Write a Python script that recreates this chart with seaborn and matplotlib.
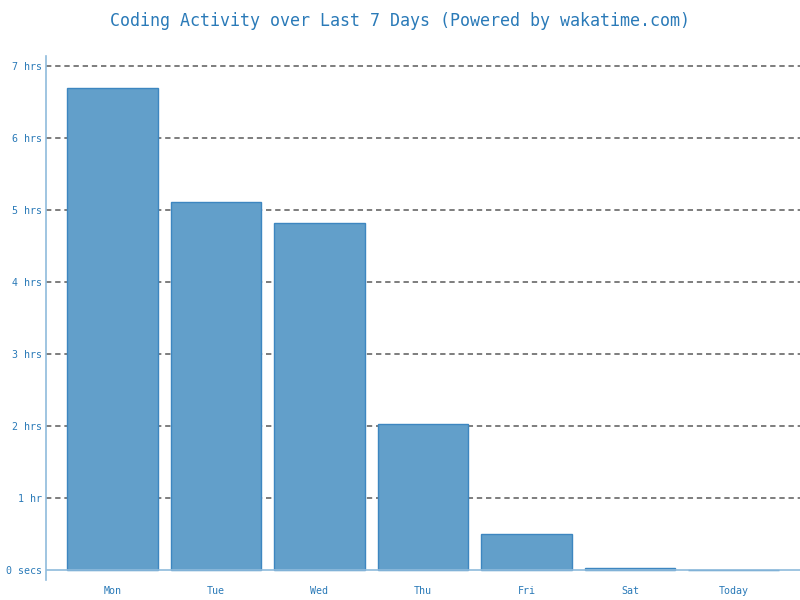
import pandas as pd
import matplotlib.pyplot as plt
import seaborn as sns

days = ['Mon', 'Tue', 'Wed', 'Thu', 'Fri', 'Sat', 'Today']
hours = [6.69, 5.11, 4.82, 2.03, 0.50, 0.03, 0.0]
tick_vals = [0, 1, 2, 3, 4, 5, 6, 7]
tick_labels = ['0 secs', '1 hr', '2 hrs', '3 hrs', '4 hrs', '5 hrs', '6 hrs', '7 hrs']

df = pd.DataFrame({'day': days, 'hours': hours})

sns.set_style('white')
plt.rcParams['font.family'] = ['DejaVu Sans Mono', 'DejaVu Sans']

text_col = '#2a7ab8'
spine_col = '#8fbbdc'

fig = plt.figure(figsize=(8, 6), dpi=100)
ax = fig.add_axes([0.0575, 0.0333, 0.9425, 0.8734])

sns.barplot(data=df, x='day', y='hours', color='#629fca', saturation=1,
            width=0.875, edgecolor='#3d86c0', linewidth=1, ax=ax, zorder=3)

for v in tick_vals[1:]:
    ax.axhline(v, color='#5a5a5a', linestyle=(0, (3.5, 2.5)), linewidth=1.1, zorder=2)
ax.axhline(0, color=spine_col, linewidth=1.2, zorder=4)

ax.set_xlim(-0.64, 6.64)
ax.set_ylim(-10 / 72, 514 / 72)
ax.set_yticks(tick_vals)
ax.set_yticklabels(tick_labels)
ax.tick_params(axis='both', length=0, labelsize=7.2, labelcolor=text_col)
ax.tick_params(axis='y', pad=3)
ax.tick_params(axis='x', pad=4)
ax.set_xlabel('')
ax.set_ylabel('')

for s in ['top', 'right', 'bottom']:
    ax.spines[s].set_visible(False)
ax.spines['left'].set_color(spine_col)
ax.spines['left'].set_linewidth(1.2)

fig.suptitle('Coding Activity over Last 7 Days (Powered by wakatime.com)',
             y=0.98, fontsize=12, color=text_col)

fig.savefig('out.png', dpi=100)
